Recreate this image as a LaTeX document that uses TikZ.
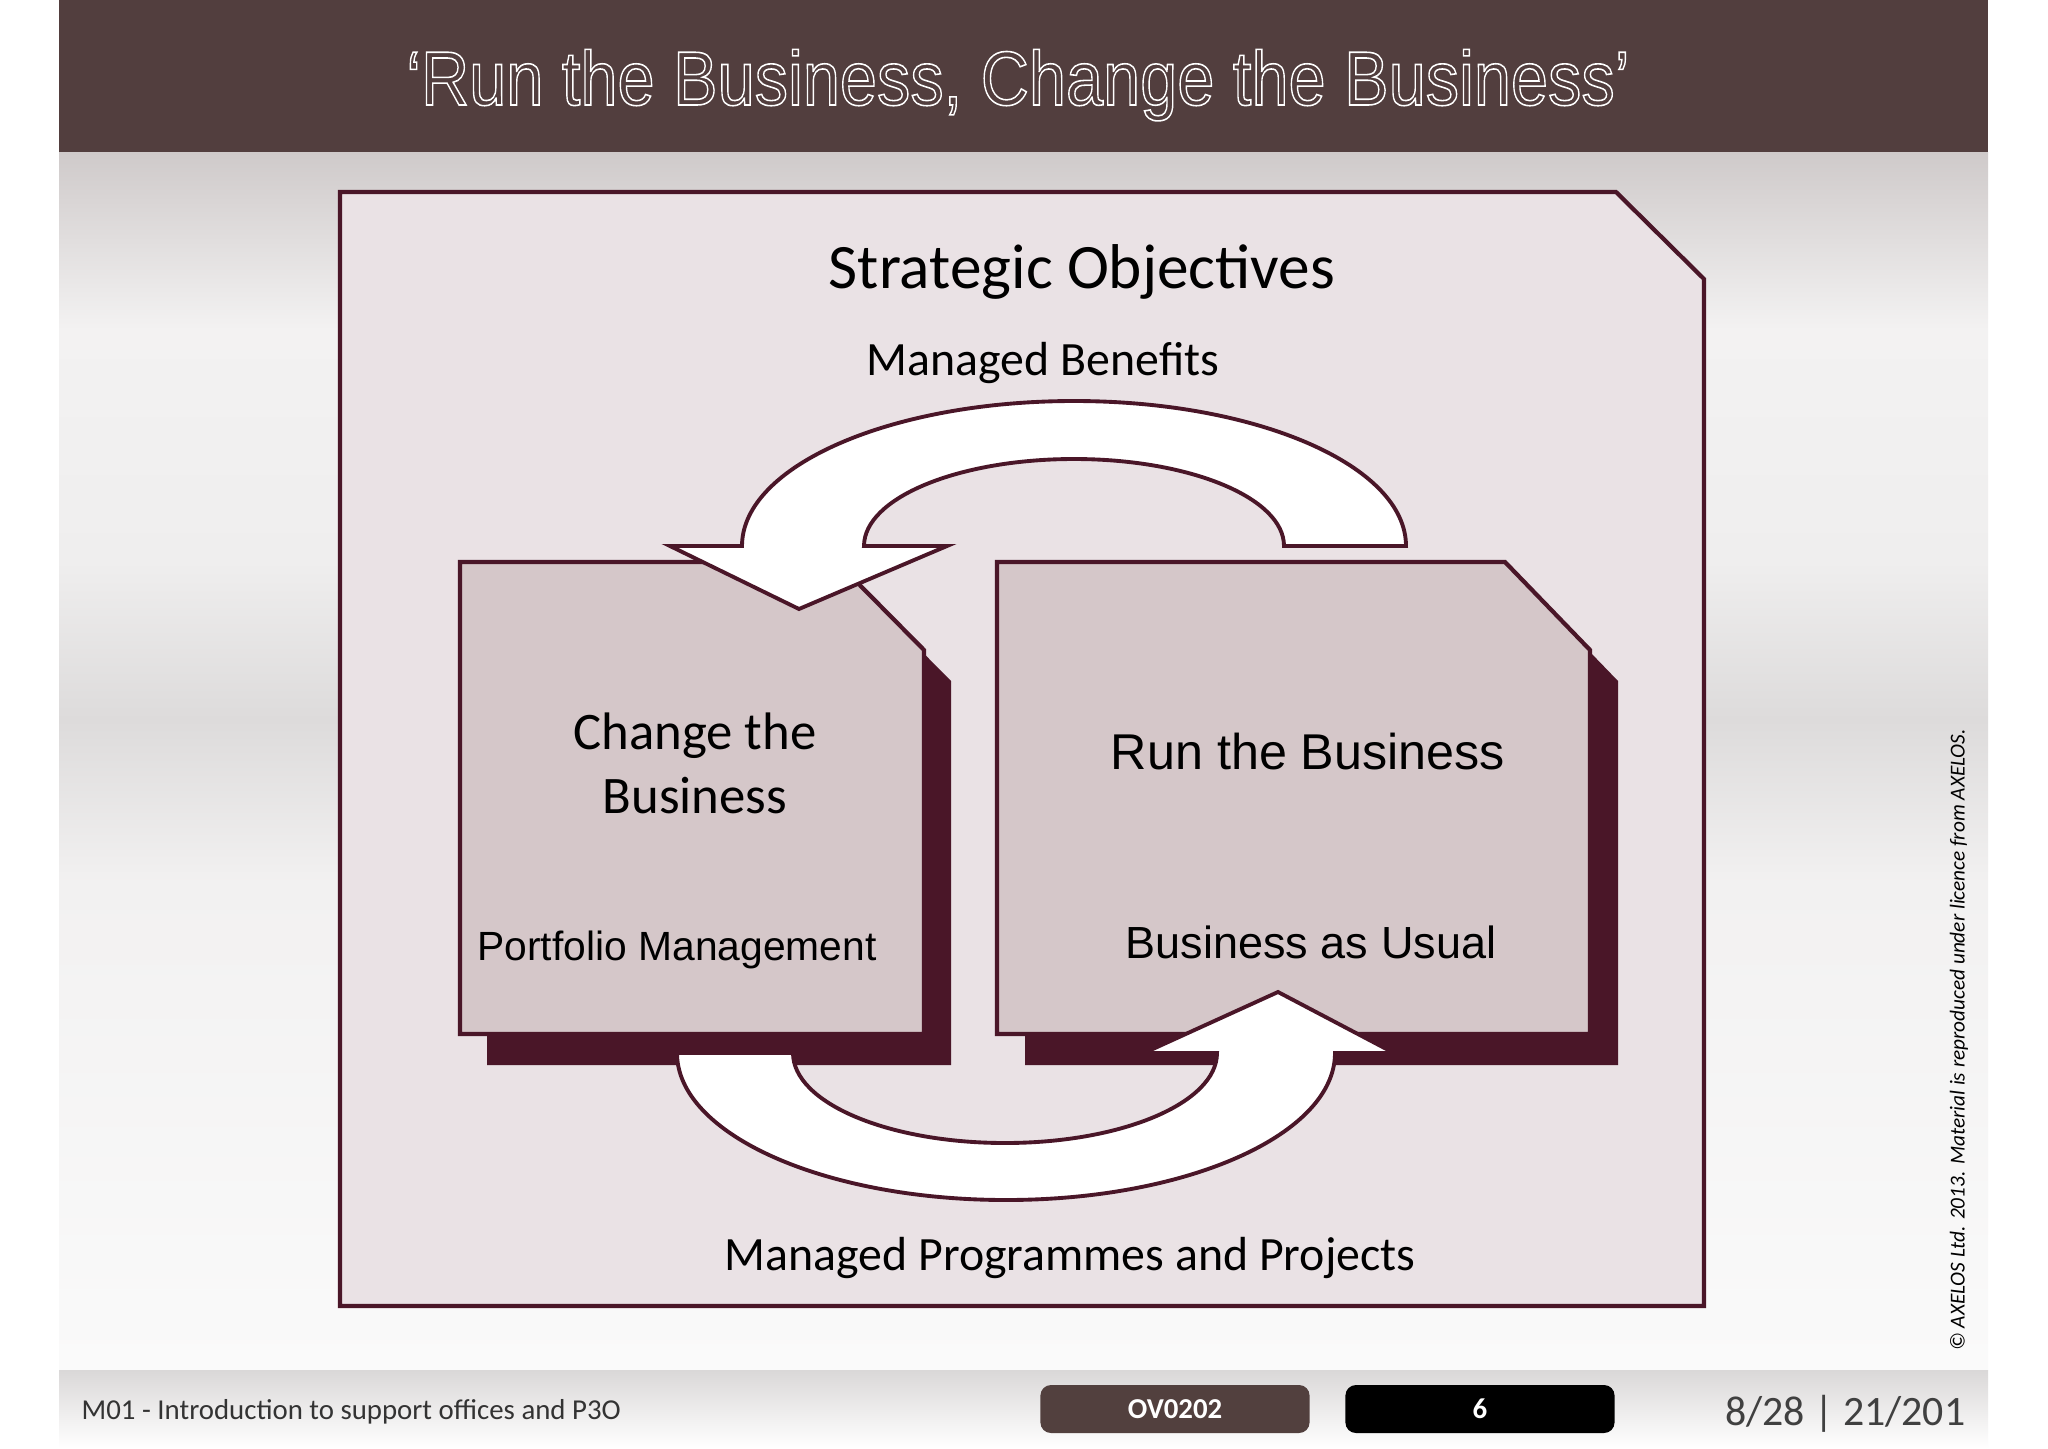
\documentclass[tikz,border=0pt]{standalone}
\usepackage{fontspec}
\setmainfont{Carlito}
\newfontfamily\arialfont{Liberation Sans}
\usepackage{tikz}
\usetikzlibrary{calc}

\definecolor{barBrown}{HTML}{523E3E}
\definecolor{tagBrown}{HTML}{52403E}
\definecolor{frameFill}{HTML}{EAE2E5}
\definecolor{boxFill}{HTML}{D5C7C9}
\definecolor{darkWine}{HTML}{4A1628}
\definecolor{bgTop}{HTML}{CFCACA}
\definecolor{bgA}{HTML}{F3F2F2}
\definecolor{bgB}{HTML}{EFEEEE}
\definecolor{bgC}{HTML}{DDDBDB}
\definecolor{bgD}{HTML}{F2F1F1}
\definecolor{bgE}{HTML}{FAFAFA}
\definecolor{footTop}{HTML}{DAD8D8}
\pgfdeclareverticalshading{slideBack}{100bp}{color(0bp)=(bgE); color(25bp)=(bgE); color(45bp)=(bgD); color(51.7bp)=(bgC); color(58.2bp)=(bgB); color(67.7bp)=(bgA); color(75bp)=(bgTop); color(100bp)=(bgTop)}

% 白い輪郭だけの文字
\newcommand{\hollowtext}[1]{\special{pdf:literal direct 1 Tr 0.45 w}#1\special{pdf:literal direct 0 Tr}}

\begin{document}
\begin{tikzpicture}[x=0.01cm, y=-0.01cm,
    outline/.style={draw=darkWine, line width=1.2pt, line join=miter},
    bigarrow/.style={draw=darkWine, line width=1.1pt, fill=white, line join=miter},
    bodyText/.style={anchor=base, inner sep=0pt, text=black},
    tagBox/.style={text=white, font=\bfseries\fontsize{8.2}{10}\selectfont, minimum width=2.69cm, minimum height=0.48cm, rounded corners=3pt, inner sep=0pt}
  ]
  \useasboundingbox (0,0) rectangle (2048,1448);

  % 背景
  \fill[white] (0,0) rectangle (2048,1448);
  % スライドの背景のグラデーション
  \shade[shading=slideBack] (59,152) rectangle (1988,1370);
  % フッターの帯
  \shade[top color=footTop, bottom color=white] (59,1370) rectangle (1988,1448);
  % タイトルバー
  \fill[barBrown] (59,0) rectangle (1988,152);
  \node[bodyText, text=white, font=\arialfont\fontsize{21.8}{26}\selectfont] (title) at (1018,105) {\scalebox{0.87}[1]{\hollowtext{‘Run the Business, Change the Business’}}};

  % 外枠の角
  \coordinate (F1) at (340,192);
  \coordinate (F2) at (1616,192);
  \coordinate (F3) at (1704,279);
  \coordinate (F4) at (1704,1306);
  \coordinate (F5) at (340,1306);
  % 外枠
  \draw[outline, fill=frameFill] (F1) -- (F2) -- (F3) -- (F4) -- (F5) -- cycle;

  % 左の箱の影
  \fill[darkWine] (487,593) -- (864,593) -- (951,681) -- (951,1065) -- (487,1065) -- cycle;
  % 右の箱の影
  \fill[darkWine] (1025,593) -- (1533,593) -- (1618,681) -- (1618,1065) -- (1025,1065) -- cycle;

  % 左の箱
  \draw[outline, fill=boxFill] (460,562) -- (837,562) -- (924,650) -- (924,1034) -- (460,1034) -- cycle;
  % 右の箱
  \draw[outline, fill=boxFill] (997,562) -- (1505,562) -- (1590,650) -- (1590,1034) -- (997,1034) -- cycle;

  % 上の矢印（右から左へ）
  \draw[bigarrow] (1406,546) arc[start angle=360, end angle=180, x radius=332, y radius=145]
    -- (670,546) -- (799,609) -- (947,546) -- (864,546)
    arc[start angle=180, end angle=360, x radius=210, y radius=87] -- cycle;
  % 下の矢印（左から右へ）
  \draw[bigarrow] (677,1053) arc[start angle=180, end angle=0, x radius=329, y radius=147]
    -- (1394,1053) -- (1278,992) -- (1144,1053) -- (1217,1053)
    arc[start angle=0, end angle=180, x radius=212, y radius=90] -- cycle;

  % 見出しとラベル
  \node[bodyText, font=\fontsize{18}{22}\selectfont] (stratObj) at (1082,288) {Strategic Objectives};
  \node[bodyText, font=\fontsize{13.6}{16}\selectfont] (benefitsLbl) at (1043,375) {Managed Benefits};
  \node[bodyText, font=\fontsize{13.6}{16}\selectfont] (programmesLbl) at (1070,1270) {Managed Programmes and Projects};

  % 箱の中の文字
  \node[bodyText, align=center, font=\fontsize{15}{18.1}\selectfont] (changeLbl) at (695,813) {Change the\\Business};
  \node[bodyText, font=\arialfont\fontsize{11.6}{14}\selectfont] (portfolioLbl) at (677,960) {Portfolio Management};
  \node[bodyText, font=\arialfont\fontsize{14.3}{17}\selectfont] (runLbl) at (1308,769) {Run the Business};
  \node[bodyText, font=\arialfont\fontsize{12.8}{15}\selectfont] (bauLbl) at (1311,958) {Business as Usual};

  % 著作権表示
  \node[rotate=90, inner sep=0pt, font=\itshape\fontsize{6.05}{7}\selectfont] (copyLbl) at (1959,1040) {© AXELOS Ltd. 2013. Material is reproduced under licence from AXELOS.};

  % フッター
  \node[anchor=base west, inner sep=0pt, font=\fontsize{8.2}{10}\selectfont, text=black!80] (footerLbl) at (81,1419) {M01 - Introduction to support offices and P3O};
  \node[tagBox, fill=tagBrown] (codeTag) at (1175,1409) {OV0202};
  \node[tagBox, fill=black] (pageTag) at (1480,1409) {6};
  \node[anchor=base east, inner sep=0pt, font=\fontsize{11.9}{14}\selectfont, text=black!75] (pageNum) at (1966,1425) {8/28 | 21/201};
\end{tikzpicture}
\end{document}
